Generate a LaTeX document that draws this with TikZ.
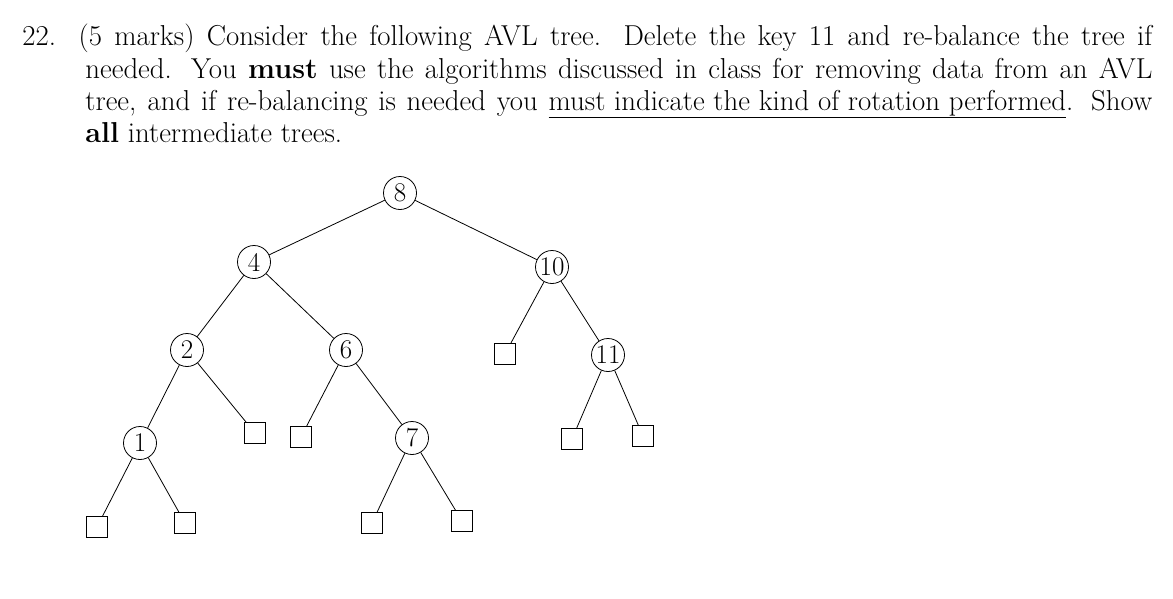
\documentclass[tikz,border=0pt]{standalone}
\begin{document}
\begin{tikzpicture}[x=1pt,y=-1pt,
  key/.style={circle,draw,inner sep=0pt,minimum size=33pt,font=\fontsize{27}{30}\selectfont},
  leaf/.style={rectangle,draw,inner sep=0pt,minimum size=21pt},
  every path/.style={line width=0.8pt}]
\useasboundingbox (0,0) rectangle (1173,598);
\def\tf{\fontsize{28.8}{33}\selectfont}
\node[anchor=base west,inner sep=0pt] (l1) at (22,45) {\tf\makebox[1130pt][s]{22. (5 marks) Consider the following AVL tree. Delete the key 11 and re-balance the tree if}};
\node[anchor=base west,inner sep=0pt] (l2) at (85,78) {\tf\makebox[1067pt][s]{needed. You \textbf{must} use the algorithms discussed in class for removing data from an AVL}};
\node[anchor=base west,inner sep=0pt] (l3) at (85,110) {\tf\makebox[1067pt][s]{tree, and if re-balancing is needed you \underline{must indicate the kind of rotation performed}. Show}};
\node[anchor=base west,inner sep=0pt] (l4) at (85,142) {\tf\textbf{all} intermediate trees.};
\node[key] (n8) at (400,193) {8};
\node[key] (n4) at (254,262) {4};
\node[key] (n10) at (552,267) {10};
\node[key] (n2) at (187,350) {2};
\node[key] (n6) at (346,350) {6};
\node[key] (n11) at (608,355) {11};
\node[key] (n1) at (140,443) {1};
\node[key] (n7) at (412,438) {7};
\node[leaf] (s1) at (505,354) {};
\node[leaf] (s2) at (255,433) {};
\node[leaf] (s3) at (301,437) {};
\node[leaf] (s4) at (572,439) {};
\node[leaf] (s5) at (643,436) {};
\node[leaf] (s6) at (97,527) {};
\node[leaf] (s7) at (185,523) {};
\node[leaf] (s8) at (372,523) {};
\node[leaf] (s9) at (462,521) {};
\draw (n8)--(n4); \draw (n8)--(n10);
\draw (n4)--(n2); \draw (n4)--(n6);
\draw (n10)--(s1); \draw (n10)--(n11);
\draw (n2)--(n1); \draw (n2)--(s2);
\draw (n6)--(s3); \draw (n6)--(n7);
\draw (n11)--(s4); \draw (n11)--(s5);
\draw (n1)--(s6); \draw (n1)--(s7);
\draw (n7)--(s8); \draw (n7)--(s9);
\end{tikzpicture}
\end{document}
